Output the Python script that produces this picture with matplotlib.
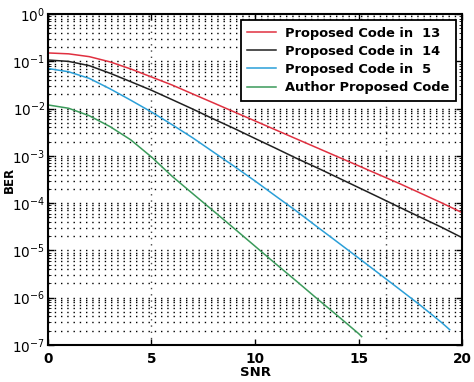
import matplotlib
matplotlib.use("Agg")
import matplotlib.pyplot as plt
import numpy as np

plt.rcParams['font.family'] = ['DejaVu Sans']
plt.rcParams['mathtext.fontset'] = 'dejavusans'
plt.rcParams['mathtext.default'] = 'bf'

snr_a = list(range(21))
ber_red = [0.151, 0.1445, 0.126, 0.0977, 0.0692, 0.0468, 0.0316, 0.0204, 0.0132,
           0.00851, 0.0055, 0.00355, 0.00229, 0.00148, 9.55e-4, 6.17e-4, 3.98e-4,
           2.57e-4, 1.62e-4, 1.02e-4, 6.3e-5]
ber_black = [0.107, 0.100, 0.0813, 0.0562, 0.0372, 0.0245, 0.0155, 0.00977, 0.00603,
             0.0038, 0.00234, 0.00145, 8.9e-4, 5.6e-4, 3.47e-4, 2.14e-4, 1.32e-4,
             8.1e-5, 5.0e-5, 3.1e-5, 1.86e-5]
snr_cyan = list(range(20)) + [19.4]
ber_cyan = [0.0708, 0.0603, 0.0437, 0.0263, 0.0151, 0.00851, 0.00457, 0.0024, 0.0012,
            6.0e-4, 2.95e-4, 1.41e-4, 6.8e-5, 3.16e-5, 1.48e-5, 6.9e-6, 3.2e-6,
            1.48e-6, 6.8e-7, 3.0e-7, 2.1e-7]
snr_green = list(range(16)) + [15.15]
ber_green = [0.0120, 0.0102, 0.00708, 0.00417, 0.00219, 9.5e-4, 3.7e-4, 1.58e-4,
             6.8e-5, 2.9e-5, 1.23e-5, 5.2e-6, 2.24e-6, 9.5e-7, 4.1e-7, 1.74e-7, 1.5e-7]

labels = ["Proposed Code in  13", "Proposed Code in  14",
          "Proposed Code in  5", "Author Proposed Code"]
colors = ["#e03040", "#202020", "#2a9fd8", "#3a9a5a"]
xticks = [0, 5, 10, 15, 20]
vgrid_x = [5, 16.3]

fig = plt.figure(figsize=(4.74, 3.82), dpi=100)
ax = fig.add_axes([0.101, 0.097, 0.874, 0.866])
ax.set_yscale('log')
ax.set_xlim(0, 20)
ax.set_ylim(1e-7, 1)

dot = (0, (1, 3.5))
ax.yaxis.grid(True, which='both', linestyle=dot, color='black', linewidth=1.0)
for xv in vgrid_x:
    ax.axvline(xv, linestyle=dot, color='#444444', linewidth=1.0, zorder=1)

ax.plot(snr_a, ber_red, color=colors[0], lw=1.1, label=labels[0])
ax.plot(snr_a, ber_black, color=colors[1], lw=1.1, label=labels[1])
ax.plot(snr_cyan, ber_cyan, color=colors[2], lw=1.1, label=labels[2])
ax.plot(snr_green, ber_green, color=colors[3], lw=1.1, label=labels[3])

ax.set_xticks(xticks)
ax.set_xticklabels([str(v) for v in xticks], fontweight='bold')
ax.set_yticks([10.0**k for k in range(-7, 1)])
ax.tick_params(axis='both', which='both', direction='in', top=True, right=True,
               labelsize=9.8)
ax.tick_params(axis='both', which='major', length=4, width=1)
ax.tick_params(axis='y', which='minor', length=2)
ax.tick_params(axis='x', which='major', pad=5)
ax.tick_params(axis='y', which='major', pad=2)
for sp in ax.spines.values():
    sp.set_linewidth(1.5)

ax.set_xlabel("SNR", fontweight='bold', fontsize=9.5, labelpad=0)
ax.set_ylabel("BER", fontweight='bold', fontsize=8.5)
ax.yaxis.set_label_coords(-0.078, 0.5)

leg = ax.legend(loc='upper right', prop={'weight': 'bold', 'size': 9.4},
                frameon=True, fancybox=False, edgecolor='black', framealpha=1,
                handlelength=2.2, handletextpad=0.7, borderpad=0.5,
                labelspacing=0.4, bbox_to_anchor=(0.985, 0.982),
                borderaxespad=0)
leg.get_frame().set_linewidth(1.3)

fig.savefig("out.png", dpi=100)
